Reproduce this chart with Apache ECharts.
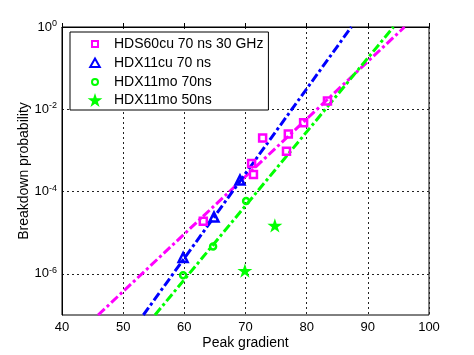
<!DOCTYPE html>
<html>
<head>
<meta charset="utf-8">
<script src="https://cdn.jsdelivr.net/npm/echarts@6/dist/echarts.min.js"></script>
<style>html,body{margin:0;padding:0;background:#fff;}#c{width:474px;height:355px;}</style>
</head>
<body>
<div id="c"></div>
<script>
// Data (x = peak gradient, p = breakdown probability)
const seriesNames = ['HDS60cu 70 ns 30 GHz', 'HDX11cu 70 ns', 'HDX11mo 70ns', 'HDX11mo 50ns'];
const hds60X = [83.4, 79.5, 77.0, 72.8, 76.7, 71.0, 71.3, 63.1];
const hds60P = [1.6e-2, 4.7e-3, 2.5e-3, 2.0e-3, 9.5e-4, 4.8e-4, 2.6e-4, 1.9e-5];
const hdx11cuX = [69.1, 64.85, 59.8];
const hdx11cuP = [1.9e-4, 2.4e-5, 2.5e-6];
const hdx11mo70X = [70.1, 64.7, 59.8];
const hdx11mo70P = [5.9e-5, 4.6e-6, 9.3e-7];
const hdx11mo50X = [74.8, 69.9];
const hdx11mo50P = [1.5e-5, 1.2e-6];
// fit lines (end points)
const fitHds60X = [45.9, 96.0];
const fitHds60P = [1e-7, 1];
const fitCuX = [53.3, 87.3];
const fitCuP = [1e-7, 1];
const fitMoX = [55.2, 94.2];
const fitMoP = [1e-7, 1];
const xTicks = [40, 50, 60, 70, 80, 90, 100];
const yDecades = [0, -2, -4, -6];

const MAG = '#ff00ff', BLUE = '#0000ff', GREEN = '#00ff00';
const pts = (xs, ps) => xs.map((x, i) => [x, Math.log10(ps[i])]);
const STAR = 'path://M10,0L12.245,6.91L19.511,6.91L13.633,11.18L15.878,18.09L10,13.82L4.122,18.09L6.367,11.18L0.489,6.91L7.755,6.91Z';
const dashDot = [9, 3, 3, 3];
const font = 'Liberation Sans, Arial, sans-serif';

function fit(name, xs, ps, color) {
  return {
    name: name, type: 'line', data: pts(xs, ps), showSymbol: false, symbol: 'none',
    lineStyle: {color: color, width: 3, type: dashDot}, clip: true, z: 2, silent: true
  };
}
function marks(name, xs, ps, symbol, size, color, hollow) {
  return {
    name: name, type: 'scatter', data: pts(xs, ps), symbol: symbol, symbolSize: size,
    symbolKeepAspect: true,
    itemStyle: hollow ? {color: 'rgba(255,255,255,0)', borderColor: color, borderWidth: 2.5, opacity: 1}
                      : {color: color, borderWidth: 0, opacity: 1},
    z: 3
  };
}

const chart = echarts.init(document.getElementById('c'), null, {renderer: 'canvas'});
chart.setOption({
  animation: false,
  backgroundColor: '#fff',
  textStyle: {fontFamily: font},
  grid: {left: 62, right: 45, top: 27, bottom: 39, show: true, borderColor: '#000', borderWidth: 1, backgroundColor: '#fff'},
  legend: {
    orient: 'vertical', left: 70, top: 32,
    itemWidth: 28, itemHeight: 14, itemGap: 3,
    padding: [4, 5, 3, 17],
    borderColor: '#000', borderWidth: 1, borderRadius: 0, backgroundColor: '#fff',
    textStyle: {fontSize: 14, color: '#000', fontFamily: font},
    data: [
      {name: seriesNames[0], icon: 'path://M0,0L0,0M4,4H10V10H4ZM14,14L14,14'},
      {name: seriesNames[1], icon: 'path://M0,0L0,0M7,2.5L11.8,11H2.2ZM14,14L14,14'},
      {name: seriesNames[2], icon: 'path://M0,0L0,0M10,7A3,3 0 1,1 4,7A3,3 0 1,1 10,7ZM14,14L14,14'},
      {name: seriesNames[3], icon: STAR}
    ],
    selectedMode: false
  },
  xAxis: {
    type: 'value', min: 40, max: 100, interval: 10,
    name: 'Peak gradient', nameLocation: 'middle', nameGap: 21, nameMoveOverlap: false,
    nameTextStyle: {fontSize: 14, color: '#000', fontFamily: font},
    axisLine: {show: true, lineStyle: {color: '#000', width: 1}},
    axisTick: {show: true, inside: true, length: 4, lineStyle: {color: '#000'}},
    axisLabel: {fontSize: 13, color: '#000', margin: 6, fontFamily: font},
    splitLine: {show: true, lineStyle: {color: '#222', width: 1, type: [2, 3]}}
  },
  yAxis: {
    type: 'value', min: -7, max: 0, interval: 1,
    name: 'Breakdown probability', nameLocation: 'middle', nameGap: 31, nameMoveOverlap: false,
    nameTextStyle: {fontSize: 14, color: '#000', fontFamily: font},
    axisLine: {show: true, lineStyle: {color: '#000', width: 1}},
    axisTick: {show: false},
    axisLabel: {
      margin: 5, color: '#000', fontFamily: font,
      formatter: function (v) { return yDecades.indexOf(v) >= 0 ? '{b|10}{s|' + v + '}' : ''; },
      rich: {
        b: {fontSize: 13, color: '#000', fontFamily: font, lineHeight: 16},
        s: {fontSize: 9, color: '#000', fontFamily: font, verticalAlign: 'top', lineHeight: 9}
      }
    },
    splitLine: {show: true, showMinLine: true, showMaxLine: true,
      lineStyle: {color: ['rgba(0,0,0,0)', '#222'], width: 1, type: [2, 3]}}
  },
  series: [
    fit('fit1', fitHds60X, fitHds60P, MAG),
    fit('fit2', fitCuX, fitCuP, BLUE),
    fit('fit3', fitMoX, fitMoP, GREEN),
    marks(seriesNames[0], hds60X, hds60P, 'rect', 7, MAG, true),
    marks(seriesNames[1], hdx11cuX, hdx11cuP, 'triangle', 9, BLUE, true),
    marks(seriesNames[2], hdx11mo70X, hdx11mo70P, 'circle', 6, GREEN, true),
    marks(seriesNames[3], hdx11mo50X, hdx11mo50P, STAR, 15, GREEN, false)
  ]
});
</script>
</body>
</html>
